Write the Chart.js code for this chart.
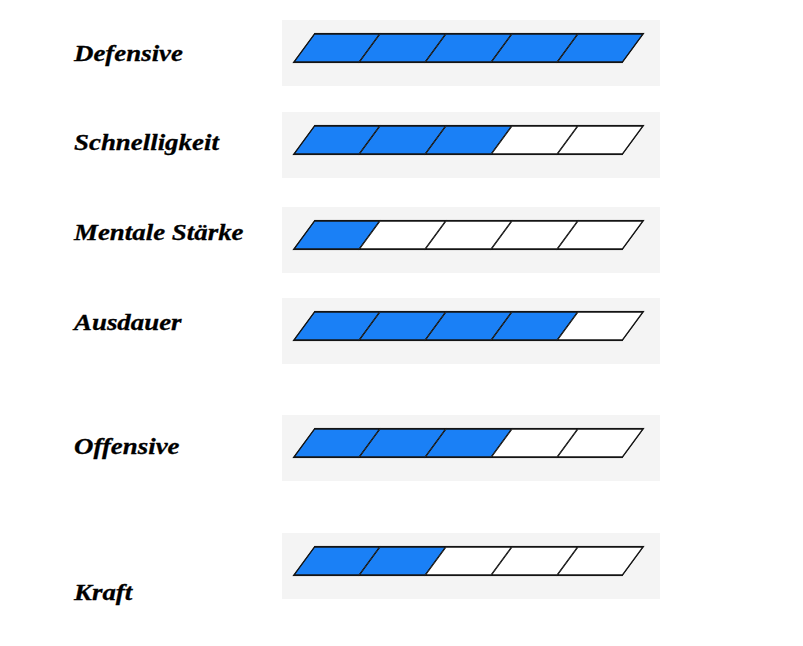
<!DOCTYPE html>
<html>
<head>
<meta charset="utf-8">
<script src="https://cdn.jsdelivr.net/npm/chart.js@4.4.1/dist/chart.umd.min.js"></script>
<style>
    html, body { margin: 0; padding: 0; background: #ffffff; }
    #page { position: relative; width: 803px; height: 646px; }
    .label {
        position: absolute;
        left: 74px;
        font-family: "Liberation Serif", "Times New Roman", serif;
        font-weight: bold;
        font-style: italic;
        font-size: 24px;
        line-height: 24px;
        color: #000000;
        white-space: nowrap;
        transform: scaleX(1.12);
        transform-origin: left top;
        -webkit-text-stroke: 0.3px #000000;
    }
    .box {
        position: absolute;
        left: 282px;
        width: 378px;
        height: 66px;
        background: #f4f4f4;
    }
</style>
</head>
<body>
<div id="page"></div>
<script>
    // skill ratings (out of 5)
    var categories = ['Defensive', 'Schnelligkeit', 'Mentale Stärke', 'Ausdauer', 'Offensive', 'Kraft'];
    var ratings = [5, 3, 1, 4, 3, 2];
    var maxRating = 5;

    // layout only: where each grey box and label sits on the page
    var boxTops = [20, 112, 207, 298, 415, 533];
    var labelTops = [41, 130, 220, 310, 434, 580];

    var fillColor = 'rgba(26, 128, 246, 1)';
    var emptyColor = '#ffffff';
    var lineColor = '#141414';
    var skew = 0.73;

    // shear the bar into a parallelogram around its middle
    var skewPlugin = {
        id: 'skew',
        beforeDatasetsDraw: function (chart) {
            var ctx = chart.ctx;
            var area = chart.chartArea;
            var yc = (area.top + area.bottom) / 2;
            ctx.save();
            ctx.translate(0, yc);
            ctx.transform(1, 0, -skew, 1, 0, 0);
            ctx.translate(0, -yc);
        },
        afterDatasetsDraw: function (chart) {
            chart.ctx.restore();
        }
    };

    var page = document.getElementById('page');

    categories.forEach(function (name, row) {
        var label = document.createElement('div');
        label.className = 'label';
        label.style.top = labelTops[row] + 'px';
        label.textContent = name;
        page.appendChild(label);

        var box = document.createElement('div');
        box.className = 'box';
        box.style.top = boxTops[row] + 'px';
        var canvas = document.createElement('canvas');
        canvas.width = 378;
        canvas.height = 66;
        box.appendChild(canvas);
        page.appendChild(box);

        var datasets = [];
        for (var i = 0; i < maxRating; i++) {
            datasets.push({
                data: [1],
                backgroundColor: i < ratings[row] ? fillColor : emptyColor,
                borderColor: lineColor,
                borderWidth: {
                    top: 2,
                    bottom: 2,
                    left: i === 0 ? 2 : 1.3,
                    right: i === maxRating - 1 ? 2 : 1.3
                },
                borderSkipped: false,
                barPercentage: 1,
                categoryPercentage: 1,
                clip: false
            });
        }

        new Chart(canvas, {
            type: 'bar',
            data: {
                labels: [name],
                datasets: datasets
            },
            options: {
                indexAxis: 'y',
                responsive: false,
                animation: false,
                layout: {
                    padding: { left: 21.5, right: 26.5, top: 13, bottom: 23 }
                },
                plugins: {
                    legend: { display: false },
                    tooltip: { enabled: false }
                },
                scales: {
                    x: { stacked: true, min: 0, max: maxRating, display: false },
                    y: { stacked: true, display: false }
                }
            },
            plugins: [skewPlugin]
        });
    });
</script>
</body>
</html>
